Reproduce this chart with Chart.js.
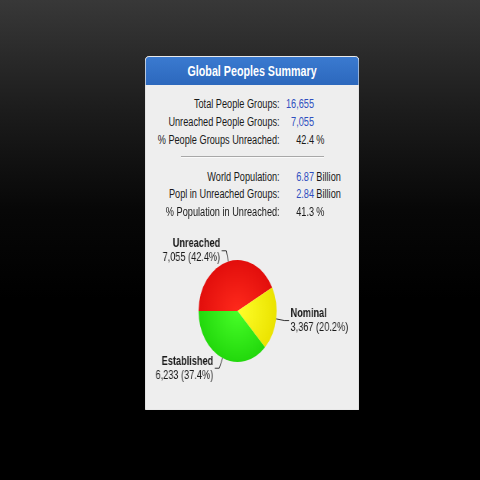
<!DOCTYPE html>
<html>
<head>
<meta charset="utf-8">
<script src="https://cdn.jsdelivr.net/npm/chart.js@4/dist/chart.umd.min.js"></script>
<style>
  html, body { margin: 0; padding: 0; }
  body {
    width: 480px; height: 480px; overflow: hidden; position: relative;
    background: linear-gradient(to bottom, #383838 0px, #1c1c1c 110px, #070707 210px, #000 300px);
    font-family: "Liberation Sans", Arial, sans-serif;
  }
  #card {
    position: absolute; left: 145px; top: 56px;
    width: 278px; height: 352px;
    background: #eeeeee;
    border: 1px solid #f8f8f8;
    border-radius: 5px 5px 0 0;
    transform: scaleX(0.765); transform-origin: 0 0;
  }
  #header {
    height: 28px; line-height: 29px;
    background: linear-gradient(#3a7ad0, #2c68bd);
    border-radius: 4px 4px 0 0;
    color: #fff; font-weight: bold; font-size: 14px; text-align: center;
  }
  .row { position: absolute; left: 0; width: 278px; height: 14px; font-size: 12px; line-height: 14px; color: #1a1a1a; }
  .row .lab { position: absolute; right: 103px; white-space: nowrap; }
  .row .num { position: absolute; right: 58px; white-space: nowrap; }
  .row .num.blue { color: #2f4fbf; }
  .row .unit { position: absolute; left: 223px; white-space: nowrap; }
  #sep { position: absolute; left: 46px; width: 187px; top: 99px; height: 0; border-top: 1px solid #a8a8a8; border-bottom: 1px solid #fafafa; }
  #pie { position: absolute; left: 0; top: 164px; }
</style>
</head>
<body>
<div id="card">
  <div id="header">Global Peoples Summary</div>
  <div id="rows"></div>
  <div id="sep"></div>
  <canvas id="pie" width="278" height="180"></canvas>
</div>
<script>
// summary table
const summaryLabels = ['Total People Groups:', 'Unreached People Groups:', '% People Groups Unreached:',
                       'World Population:', 'Popl in Unreached Groups:', '% Population in Unreached:'];
const summaryValues = ['16,655', '7,055', '42.4', '6.87', '2.84', '41.3'];
const summaryUnits = ['', '', '%', 'Billion', 'Billion', '%'];
const summaryBlue = [true, true, false, true, true, false];
const summaryRowY = [40, 58, 76, 113, 130, 148];

// pie data
const categories = ['Unreached', 'Nominal', 'Established'];
const groupCounts = [7055, 3367, 6233];
const sliceColors = [['#ff2a1c', '#e20e0c'], ['#ffff2a', '#ebe300'], ['#48ff28', '#22d80c']];

const rowsEl = document.getElementById('rows');
summaryLabels.forEach(function(label, i) {
  const row = document.createElement('div');
  row.className = 'row';
  row.style.top = summaryRowY[i] + 'px';
  row.innerHTML = '<span class="lab"></span><span class="num"></span><span class="unit"></span>';
  row.querySelector('.lab').textContent = label;
  const num = row.querySelector('.num');
  num.textContent = summaryValues[i];
  if (summaryBlue[i]) num.classList.add('blue');
  row.querySelector('.unit').textContent = summaryUnits[i];
  rowsEl.appendChild(row);
});

const total = groupCounts.reduce((a, b) => a + b, 0);

const calloutLabels = {
  id: 'calloutLabels',
  afterDatasetsDraw(chart) {
    const ctx = chart.ctx;
    const arcs = chart.getDatasetMeta(0).data;
    ctx.save();
    ctx.strokeStyle = '#333';
    ctx.lineWidth = 1;
    ctx.fillStyle = '#1a1a1a';
    ctx.textBaseline = 'middle';
    arcs.forEach(function(arc, i) {
      const p = arc.getProps(['x', 'y', 'startAngle', 'endAngle', 'outerRadius'], true);
      const mid = (p.startAngle + p.endAngle) / 2;
      const dx = Math.cos(mid), dy = Math.sin(mid);
      const ex = p.x + dx * p.outerRadius, ey = p.y + dy * p.outerRadius;
      const bx = ex + dx * 11, by = ey + dy * 11;
      const side = dx >= 0 ? 1 : -1;
      const hx = bx + side * 6;
      ctx.beginPath();
      ctx.moveTo(ex, ey);
      ctx.lineTo(bx, by);
      ctx.lineTo(hx, by);
      ctx.stroke();
      ctx.textAlign = side > 0 ? 'left' : 'right';
      const tx = hx + side * 2;
      ctx.font = 'bold 12px "Liberation Sans", Arial, sans-serif';
      ctx.fillText(categories[i], tx, by - 7);
      ctx.font = '12px "Liberation Sans", Arial, sans-serif';
      const pct = (groupCounts[i] / total * 100).toFixed(1);
      ctx.fillText(groupCounts[i].toLocaleString('en-US') + ' (' + pct + '%)', tx, by + 7);
    });
    ctx.restore();
  }
};

new Chart(document.getElementById('pie').getContext('2d'), {
  type: 'pie',
  data: {
    labels: categories,
    datasets: [{
      data: groupCounts,
      borderWidth: 0,
      backgroundColor: function(c) {
        const area = c.chart.chartArea;
        const pair = sliceColors[c.dataIndex];
        if (!area) return pair[1];
        const cx = (area.left + area.right) / 2, cy = (area.top + area.bottom) / 2;
        const g = c.chart.ctx.createRadialGradient(cx, cy, 0, cx, cy, area.height / 2);
        g.addColorStop(0, pair[0]);
        g.addColorStop(1, pair[1]);
        return g;
      }
    }]
  },
  options: {
    responsive: false,
    animation: false,
    rotation: -90,
    layout: { padding: { left: 69, right: 107, top: 39, bottom: 39 } },
    plugins: { legend: { display: false }, tooltip: { enabled: false } }
  },
  plugins: [calloutLabels]
});
</script>
</body>
</html>
